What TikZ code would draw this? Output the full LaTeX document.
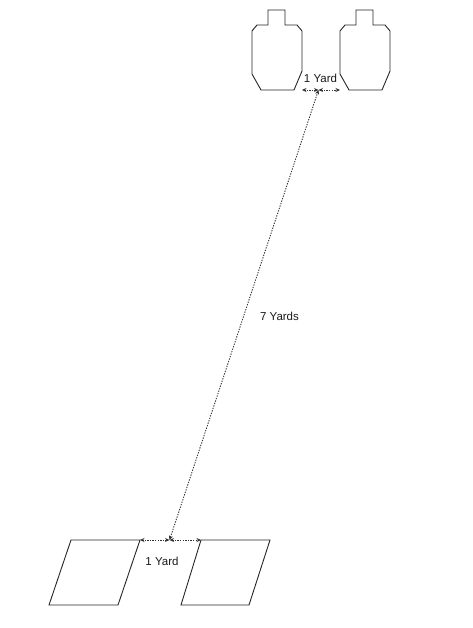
\documentclass[tikz,border=0pt]{standalone}
\usepackage{fontspec}
\setmainfont{Liberation Sans}
\usetikzlibrary{arrows.meta}
\begin{document}
\begin{tikzpicture}[x=1pt,y=-1pt,
  outline/.style={draw=black!85,line width=0.9pt,line join=miter},
  measure/.style={draw=black!80,line width=0.9pt,dash pattern=on 1.3pt off 1.3pt,
    {Stealth[length=4.5pt,width=4pt]}-{Stealth[length=4.5pt,width=4pt]}},
  lbl/.style={font=\fontsize{11.5}{13}\selectfont,text=black!90,inner sep=0pt}]
\useasboundingbox[fill=white] (0,0) rectangle (472,628);
% silhouette targets
\foreach \dx/\nm in {0/a,88/b}{
  \begin{scope}[xshift=\dx]
  \draw[outline] (268,25) -- (268,10) -- (285,10) -- (285,25) -- (297,25) -- (302,31)
     -- (302,71) -- (294,90) -- (261,90) -- (252,74) -- (252,31) -- (257,25) -- cycle;
  \end{scope}
}
% shooting boxes
\draw[outline] (71,540) -- (140,540) -- (118,605) -- (49,605) -- cycle;
\draw[outline] (201,540) -- (270,540) -- (249,605) -- (181,605) -- cycle;
% measurement points
\coordinate (t1) at (302,90);
\coordinate (t2) at (340,90);
\coordinate (tm) at (318.5,90);
\coordinate (b1) at (140,540);
\coordinate (b2) at (201,540);
\coordinate (bm) at (169.5,540);
\draw[measure] (tm) -- (t1);
\draw[measure] (tm) -- (t2);
\draw[measure] (bm) -- (b1);
\draw[measure] (bm) -- (b2);
\draw[measure] (bm) -- (tm);
% labels
\node[lbl] (l1) at (320.5,78) {1 Yard};
\node[lbl] (l7) at (279.5,316) {7 Yards};
\node[lbl] (l2) at (162,561) {1 Yard};
\end{tikzpicture}
\end{document}
